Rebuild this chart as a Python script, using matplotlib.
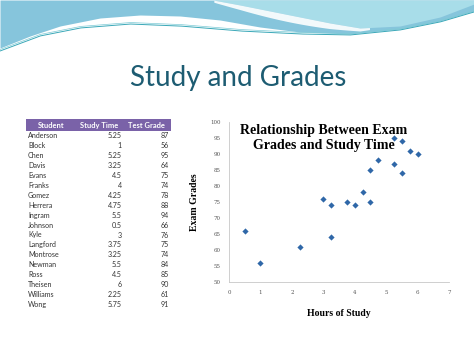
import matplotlib
matplotlib.use("Agg")
import matplotlib.pyplot as plt
import numpy as np

# table / chart data
students = ["Anderson", "Block", "Chen", "Davis", "Evans", "Franks", "Gomez",
            "Herrera", "Ingram", "Johnson", "Kyle", "Langford", "Montrose",
            "Newman", "Ross", "Theisen", "Williams", "Wong"]
study_time = [5.25, 1, 5.25, 3.25, 4.5, 4, 4.25, 4.75, 5.5, 0.5, 3, 3.75,
              3.25, 5.5, 4.5, 6, 2.25, 5.75]
test_grade = [87, 56, 95, 64, 75, 74, 78, 88, 94, 66, 76, 75, 74, 84, 85,
              90, 61, 91]
x_ticks = list(range(0, 8))
y_ticks = list(range(50, 101, 5))

W, H = 474, 355
fig = plt.figure(figsize=(W / 100, H / 100), dpi=100, facecolor="white")

# background wave decoration (pixel coordinates, y down)
bg = fig.add_axes([0, 0, 1, 1])
bg.set_xlim(0, W)
bg.set_ylim(H, 0)
bg.axis("off")
xs = np.linspace(0, W, 400)
curve_b = np.interp(xs, [0, 30, 60, 100, 140, 180, 220, 260, 300, 350, 400, 440, 474],
                    [48, 36, 26, 18, 15, 16, 20, 27, 32, 34, 29, 21, 11])
curve_l = np.interp(xs, [0, 40, 80, 130, 180, 240, 300, 350, 400, 440, 474],
                    [51, 36, 28, 24, 26, 31, 34, 35, 30, 22, 12])
curve_c = np.interp(xs, [213, 240, 270, 300, 330, 360, 400, 440, 474],
                    [0, 5, 11, 17, 23, 28, 26, 17, 4])
bg.fill_between(xs, 0, curve_b, color="#86c5dc", lw=0)
right = xs >= 213
bg.fill_between(xs[right], 0, curve_c[right], color="#a8dde9", lw=0)
band = (xs >= 213) & (xs <= 370)
t = (xs[band] - 213) / 157
bg.fill_between(xs[band], curve_c[band], curve_c[band] + 2 + 5 * np.sin(t * np.pi),
                color="white", lw=0, alpha=0.9)
bg.plot(xs, curve_l, color="#3aa8b8", lw=0.7)
bg.plot(xs, curve_l - 1.5, color="#7fcbd6", lw=0.5)
bg.fill_between(xs, curve_l + 0.5, curve_l + 4, color="white", lw=0)

fig.text(238 / W, 1 - 78 / H, "Study and Grades", ha="center", va="center",
         fontsize=20, color="#1d5c72", family="Lato")

# table
tfont = "Lato"
bg.add_patch(plt.Rectangle((26, 119), 145, 12, color="#7a62a8", lw=0))
bg.text(51, 125.5, "Student", ha="center", va="center", color="white",
        fontsize=5.4, fontweight="bold", family=tfont)
bg.text(99, 125.5, "Study Time", ha="center", va="center", color="white",
        fontsize=5.4, fontweight="bold", family=tfont)
bg.text(146, 125.5, "Test Grade", ha="center", va="center", color="white",
        fontsize=5.4, fontweight="bold", family=tfont)
for i, (name, t, g) in enumerate(zip(students, study_time, test_grade)):
    y = 136 + i * 9.9
    bg.text(28, y, name, ha="left", va="center", fontsize=5.1, family=tfont, color="#333333")
    bg.text(122, y, f"{t:g}", ha="right", va="center", fontsize=5.1, family=tfont, color="#333333")
    bg.text(169, y, f"{g}", ha="right", va="center", fontsize=5.1, family=tfont, color="#333333")

# scatter chart
ax = fig.add_axes([229 / W, 1 - 282 / H, 220 / W, 160 / H])
ax.scatter(study_time, test_grade, marker="D", s=10, color="#2f67a8", lw=0, zorder=3)
ax.set_xlim(0, 7)
ax.set_ylim(50, 100)
ax.set_xticks(x_ticks)
ax.set_yticks(y_ticks)
ax.tick_params(length=0, labelsize=4, labelcolor="#555555", pad=6)
for lab in ax.get_xticklabels() + ax.get_yticklabels():
    lab.set_family("DejaVu Serif")
ax.patch.set_alpha(0)
for s in ["top", "right"]:
    ax.spines[s].set_visible(False)
for s in ["left", "bottom"]:
    ax.spines[s].set_color("#c8c8c8")
    ax.spines[s].set_linewidth(0.6)
ax.set_xlabel("Hours of Study", fontsize=7, fontweight="bold", family="Liberation Serif", labelpad=10)
ax.set_ylabel("Exam Grades", fontsize=7, fontweight="bold", family="Liberation Serif", labelpad=8)
ax.text(0.43, 0.99, "Relationship Between Exam\nGrades and Study Time", transform=ax.transAxes,
        ha="center", va="top", fontsize=10, fontweight="bold", family="Liberation Serif",
        linespacing=1.25)

fig.savefig("out.png", dpi=100, facecolor="white")
